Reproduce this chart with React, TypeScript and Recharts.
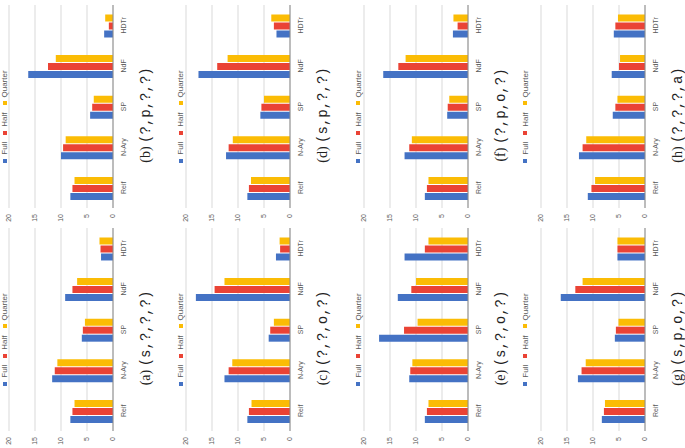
import { Bar, BarChart, CartesianGrid, XAxis, YAxis } from "recharts";

const CATEGORIES = ["Reif", "N-Ary", "SP", "NdF", "HDTr"];
const PANEL_LETTERS = ["a", "b", "c", "d", "e", "f", "g", "h"];
const PANEL_TAGS = [
  "(s,?,?,?)",
  "(?,p,?,?)",
  "(?,?,o,?)",
  "(s,p,?,?)",
  "(s,?,o,?)",
  "(?,p,o,?)",
  "(s,p,o,?)",
  "(?,?,?,a)",
];
const Y_TICKS = [0, 5, 10, 15, 20];
const SERIES_NAMES = ["Full", "Half", "Quarter"];

// one row per panel, a..h, values in CATEGORIES order
const FULL = [
  [8.2, 11.7, 6.0, 9.2, 2.3],
  [8.2, 10.0, 4.4, 16.3, 1.7],
  [8.2, 12.6, 4.1, 18.1, 2.7],
  [8.2, 12.3, 5.7, 17.6, 2.6],
  [8.3, 11.3, 17.1, 13.5, 12.2],
  [8.3, 12.2, 4.0, 16.3, 2.9],
  [8.3, 12.9, 5.8, 16.2, 5.3],
  [11.0, 12.7, 6.2, 6.4, 6.0],
];
const HALF = [
  [7.8, 11.2, 5.8, 7.8, 2.4],
  [7.8, 9.6, 4.0, 12.5, 0.8],
  [7.9, 11.8, 3.8, 14.5, 1.9],
  [7.9, 11.8, 5.5, 14.0, 3.1],
  [7.9, 11.1, 12.3, 10.9, 8.3],
  [7.9, 11.3, 3.9, 13.4, 2.0],
  [7.9, 12.2, 5.6, 13.4, 5.3],
  [10.3, 12.0, 5.7, 5.0, 5.7],
];
const QUARTER = [
  [7.4, 10.7, 5.4, 6.9, 2.6],
  [7.4, 9.1, 3.7, 11.0, 1.5],
  [7.4, 11.1, 3.1, 12.6, 2.0],
  [7.5, 11.0, 5.0, 12.0, 3.6],
  [7.6, 10.7, 9.7, 10.0, 7.6],
  [7.6, 10.8, 3.6, 12.0, 2.8],
  [7.7, 11.4, 5.1, 12.0, 5.3],
  [9.6, 11.3, 5.3, 4.8, 5.2],
];

const BLUE = "#4472C4";
const RED = "#EA4335";
const YELLOW = "#FBBC05";
const COLORS = [BLUE, RED, YELLOW];
const TEXT = "#595959";
const SANS = "'Liberation Sans', Arial, sans-serif";

// the whole figure is drawn upright (448 x 685) and then turned a quarter left.
// Recharts' own Legend measures itself with getBoundingClientRect, which gets
// the rotated box, so the legend is plain html next to each chart instead.
const FIG_W = 448;
const FIG_H = 685;
const COL_PITCH = 223;
const ROW_PITCH = 177.3;
const CHART_W = 224;
const CHART_H = 140;
const PLOT_TOP = 17;
// legend sits a bit higher in the last row
const LEGEND_TOP = [8, 7, 7, -3];

function PanelLegend({ left, top }: { left: number; top: number }) {
  return (
    <div
      style={{
        position: "absolute",
        left,
        top,
        width: CHART_W,
        height: 9,
        display: "flex",
        justifyContent: "center",
        alignItems: "center",
        fontFamily: SANS,
        fontSize: 8,
        lineHeight: "9px",
        color: TEXT,
      }}
    >
      {SERIES_NAMES.map((name, i) => (
        <span key={name} style={{ display: "flex", alignItems: "center", marginRight: 7 }}>
          <span style={{ width: 4, height: 4, background: COLORS[i], marginRight: 4 }} />
          {name}
        </span>
      ))}
    </div>
  );
}

function Panel({ index }: { index: number }) {
  const col = index % 2;
  const row = Math.floor(index / 2);
  const left = col * COL_PITCH;
  const top = row * ROW_PITCH - 8;
  const data = CATEGORIES.map((name, i) => ({
    name,
    full: FULL[index][i],
    half: HALF[index][i],
    quarter: QUARTER[index][i],
  }));

  return (
    <>
      <PanelLegend left={left} top={top + LEGEND_TOP[row]} />
      <div style={{ position: "absolute", left, top, width: CHART_W, height: CHART_H }}>
        <BarChart
          width={CHART_W}
          height={CHART_H}
          data={data}
          margin={{ top: PLOT_TOP, right: 4, bottom: 5, left: 0 }}
          barCategoryGap="20%"
          barGap={1}
        >
          <CartesianGrid stroke="#d9d9d9" vertical={false} />
          <XAxis
            dataKey="name"
            height={14}
            tick={{ fill: TEXT, fontSize: 7, fontFamily: SANS }}
            tickLine={false}
            stroke="#8c8c8c"
            interval={0}
          />
          <YAxis
            domain={[0, 20]}
            ticks={Y_TICKS}
            width={17}
            tick={{ fill: TEXT, fontSize: 7, fontFamily: SANS }}
            tickLine={false}
            axisLine={false}
            tickMargin={0}
          />
          <Bar dataKey="full" name="Full" fill={BLUE} isAnimationActive={false} />
          <Bar dataKey="half" name="Half" fill={RED} isAnimationActive={false} />
          <Bar dataKey="quarter" name="Quarter" fill={YELLOW} isAnimationActive={false} />
        </BarChart>
      </div>
      <div
        style={{
          position: "absolute",
          left: left - 2,
          top: top + 145,
          width: CHART_W,
          height: 16,
          lineHeight: "16px",
          textAlign: "center",
          color: "#222",
          whiteSpace: "nowrap",
        }}
      >
        <span style={{ fontFamily: "'Liberation Serif', serif", fontSize: 14 }}>
          ({PANEL_LETTERS[index]}){" "}
        </span>
        <span style={{ fontFamily: "'Liberation Mono', monospace", fontSize: 14 }}>
          {PANEL_TAGS[index]}
        </span>
      </div>
    </>
  );
}

export default function App() {
  return (
    <div
      style={{
        position: "absolute",
        left: 0,
        top: 0,
        width: FIG_H,
        height: FIG_W,
        overflow: "hidden",
        background: "#fff",
      }}
    >
      <div
        style={{
          position: "absolute",
          left: 0,
          top: 0,
          width: FIG_W,
          height: FIG_H,
          transformOrigin: "0 0",
          transform: `translate(0px, ${FIG_W}px) rotate(-90deg)`,
        }}
      >
        {PANEL_LETTERS.map((_, i) => (
          <Panel key={i} index={i} />
        ))}
      </div>
    </div>
  );
}
